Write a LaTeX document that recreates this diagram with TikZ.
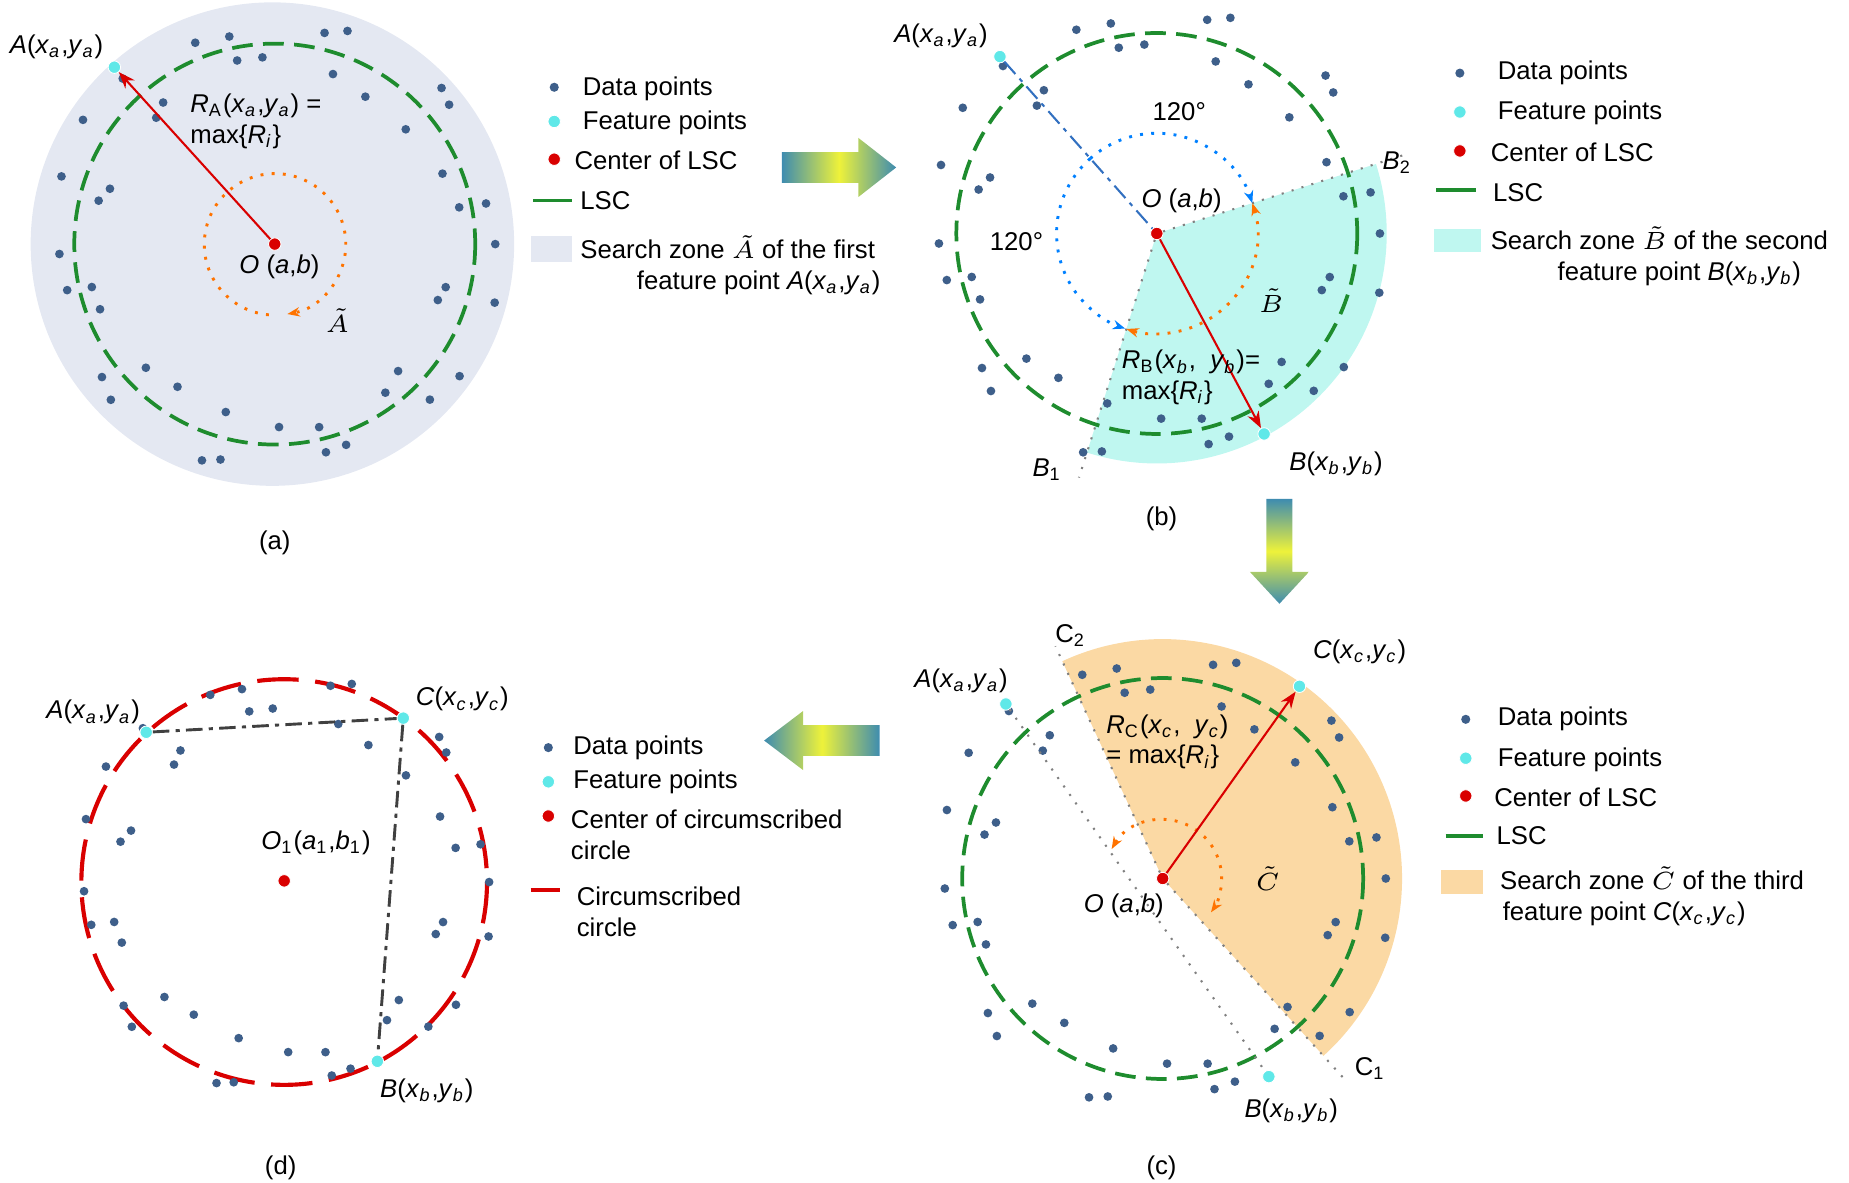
\documentclass[tikz,border=0pt]{standalone}
\usepackage{fontspec}
\setmainfont{Liberation Sans}
\usetikzlibrary{arrows.meta,calc}
\definecolor{dpc}{HTML}{3E5F8A}
\definecolor{fpc}{HTML}{5FE8E8}
\definecolor{lscgreen}{HTML}{1E8C2E}
\definecolor{zoneA}{HTML}{E4E8F2}
\definecolor{zoneB}{HTML}{BFF7F0}
\definecolor{zoneC}{HTML}{FBD9A4}
\definecolor{arrT}{HTML}{3E8CB0}
\definecolor{arrY}{HTML}{EEF23A}
\newcommand\fpt[2]{\textit{#1}(\textit{x}\textsubscript{\textit{#2}},\textit{y}\textsubscript{\textit{#2}})}
\newcommand\scatterpts[3]{%
  \foreach \i in {0,...,43}{
    \pgfmathsetmacro\ang{\i*360/44+6*sin(\i*97)}
    \pgfmathsetmacro\rr{#3*(1+0.1*cos(\i*180)+0.04*sin(\i*211))}
    \fill[dpc] ($(#1,#2)+(\ang:\rr)$) circle (1.05pt);
  }}
\tikzset{
  txt/.style={font=\fontsize{6.2}{7.4}\selectfont,inner sep=1pt},
  lab/.style={font=\fontsize{6.2}{7.4}\selectfont,inner sep=1pt},
  lsc/.style={lscgreen,line width=0.9pt,dash pattern=on 5pt off 2.5pt},
  fp/.style={circle,fill=fpc,draw=white,line width=0.2pt,inner sep=0,minimum size=3pt},
  cp/.style={circle,fill=red!85!black,draw=white,line width=0.2pt,inner sep=0,minimum size=3pt},
  dpn/.style={circle,fill=dpc,inner sep=0,minimum size=2.2pt},
  redarr/.style={red!85!black,line width=0.5pt,-{Stealth[length=4pt]}},
  orarc/.style={orange!90!red,line width=0.7pt,dotted},
  gline/.style={gray,line width=0.5pt,dotted},
}
\begin{document}
\begin{tikzpicture}[x=0.01cm,y=-0.01cm]
\useasboundingbox (0,0) rectangle (1568,1003);
% ---------- (a)
\fill[zoneA] (231,207) circle (205);
\draw[lsc] (233,207) circle (170);
\scatterpts{233}{207}{170}
\draw[orarc,-{Stealth[length=3pt]}] (228,267) arc[start angle=95,end angle=440,radius=60];
\node[cp] (Oa) at (233,207) {};
\node[fp] (Aa) at (97,57) {};
\draw[redarr] (Oa) -- (Aa);
\node[lab] at (48,40) {\fpt{A}{a}};
\node[lab,align=left] at (217,103) {\textit{R}\textsubscript{A}(\textit{x}\textsubscript{\textit{a}},\textit{y}\textsubscript{\textit{a}}) =\\max\{\textit{R}\textsubscript{\textit{i}}\}};
\node[lab] at (237,226) {\textit{O} (\textit{a},\textit{b})};
\node[lab] at (286,272) {$\tilde{A}$};
\node[dpn] at (470,74) {}; \node[txt,anchor=west] at (490,75) {Data points};
\node[fp] at (470,103) {}; \node[txt,anchor=west] at (490,104) {Feature points};
\node[cp] at (470,135) {}; \node[txt,anchor=west] at (483,136) {Center of LSC};
\draw[lsc,dash pattern=] (452,170) -- (485,170); \node[txt,anchor=west] at (488,170) {LSC};
\fill[zoneA] (450,200) rectangle (485,222);
\node[txt,anchor=west,align=left] at (488,225) {Search zone $\tilde{A}$ of the first\\ \hspace{2.2em}feature point \fpt{A}{a}};
\node[lab] at (233,460) {(a)};
\shade[left color=arrT,right color=arrT,middle color=arrY] (663,129) -- (728,129) -- (728,117) -- (760,142) -- (728,167) -- (728,155) -- (663,155) -- cycle;
% ---------- (b)
\fill[zoneB] (981,198) -- ++(107.7:195) arc[start angle=107.7,end angle=-17.6,radius=195] -- cycle;
\draw[lsc] (981,198) circle (170);
\scatterpts{981}{198}{172}
\node[cp] (Ob) at (981,198) {};
\coordinate (B1) at (915,405); \coordinate (B2) at (1195,130);
\draw[gline] (Ob) -- (B1); \draw[gline] (Ob) -- (B2);
\node[fp] (Ab) at (848,48) {};
\node[fp] (Bb) at (1072,368) {};
\draw[arrT!80!blue,line width=0.5pt,dash pattern=on 4pt off 1.5pt on 1pt off 1.5pt] (Ab) -- (Ob);
\draw[blue!50!cyan,line width=0.7pt,dotted,-{Stealth[length=3pt]}] ($(Ob)+(-131.6:85)$) arc[start angle=-131.6,end angle=-17.6,radius=85];
\draw[blue!50!cyan,line width=0.7pt,dotted,-{Stealth[length=3pt]}] ($(Ob)+(-131.6:85)$) arc[start angle=-131.6,end angle=-251.6,radius=85];
\draw[orarc,{Stealth[length=3pt]}-{Stealth[length=3pt]}] ($(Ob)+(-17.6:85)$) arc[start angle=-17.6,end angle=107.7,radius=85];
\draw[redarr] (Ob) -- (Bb);
\node[lab] at (798,30) {\fpt{A}{a}};
\node[lab] at (1000,95) {120°};
\node[lab] at (862,205) {120°};
\node[lab] at (1002,170) {\textit{O} (\textit{a},\textit{b})};
\node[lab] at (1078,255) {$\tilde{B}$};
\node[lab,align=left] at (1010,320) {\textit{R}\textsubscript{B}(\textit{x}\textsubscript{\textit{b}},\ \ \textit{y}\textsubscript{\textit{b}})=\\max\{\textit{R}\textsubscript{\textit{i}}\}};
\node[lab] at (1133,393) {\fpt{B}{b}};
\node[lab] at (888,398) {\textit{B}\textsubscript{1}};
\node[lab] at (1185,138) {\textit{B}\textsubscript{2}};
\node[lab] at (985,440) {(b)};
\node[dpn] at (1238,62) {}; \node[txt,anchor=west] at (1266,62) {Data points};
\node[fp] at (1238,95) {}; \node[txt,anchor=west] at (1266,96) {Feature points};
\node[cp] at (1238,128) {}; \node[txt,anchor=west] at (1260,129) {Center of LSC};
\draw[lsc,dash pattern=] (1218,161) -- (1252,161); \node[txt,anchor=west] at (1262,163) {LSC};
\fill[zoneB] (1216,194) rectangle (1256,214);
\node[txt,anchor=west,align=left] at (1260,217) {Search zone $\tilde{B}$ of the second\\ \hspace{2.6em}feature point \fpt{B}{b}};
\shade[top color=arrT,bottom color=arrT,middle color=arrY] (1074,423) -- (1096,423) -- (1096,485) -- (1110,485) -- (1085,512) -- (1060,485) -- (1074,485) -- cycle;
% ---------- (c)
\fill[zoneC] (986,745) -- ++(-114.8:203) arc[start angle=-114.8,end angle=47.8,radius=203] -- cycle;
\draw[lsc] (986,745) circle (170);
\scatterpts{986}{745}{172}
\node[cp] (Oc) at (986,745) {};
\coordinate (C1) at (1140,915); \coordinate (C2) at (895,548);
\draw[gline] (Oc) -- (C1); \draw[gline] (Oc) -- (C2);
\node[fp] (Ac) at (853,597) {};
\node[fp] (Bc) at (1076,913) {};
\node[fp] (Cc) at (1102,582) {};
\draw[gline] (Ac) -- (Bc);
\draw[orarc,{Stealth[length=3pt]}-{Stealth[length=3pt]}] ($(Oc)+(-150:50)$) arc[start angle=-150,end angle=35,radius=50];
\draw[redarr] (Oc) -- (Cc);
\node[lab] at (815,577) {\fpt{A}{a}};
\node[lab] at (1153,553) {\fpt{C}{c}};
\node[lab] at (1095,942) {\fpt{B}{b}};
\node[lab] at (953,768) {\textit{O} (\textit{a},\textit{b})};
\node[lab] at (1075,745) {$\tilde{C}$};
\node[lab,align=left] at (990,629) {\textit{R}\textsubscript{C}(\textit{x}\textsubscript{\textit{c}},\ \ \textit{y}\textsubscript{\textit{c}})\\= max\{\textit{R}\textsubscript{\textit{i}}\}};
\node[lab] at (908,539) {C\textsubscript{2}};
\node[lab] at (1162,906) {C\textsubscript{1}};
\node[lab] at (985,990) {(c)};
\node[dpn] at (1243,610) {}; \node[txt,anchor=west] at (1266,610) {Data points};
\node[fp] at (1243,643) {}; \node[txt,anchor=west] at (1266,644) {Feature points};
\node[cp] at (1243,675) {}; \node[txt,anchor=west] at (1263,676) {Center of LSC};
\draw[lsc,dash pattern=] (1226,709) -- (1258,709); \node[txt,anchor=west] at (1265,709) {LSC};
\fill[zoneC] (1222,738) rectangle (1258,758);
\node[txt,anchor=west,align=left] at (1268,760) {Search zone $\tilde{C}$ of the third\\ \hspace{0.1em}feature point \fpt{C}{c}};
\shade[left color=arrT,right color=arrT,middle color=arrY] (746,615) -- (681,615) -- (681,603) -- (648,628) -- (681,653) -- (681,641) -- (746,641) -- cycle;
% ---------- (d)
\draw[red!85!black,line width=1pt,dash pattern=on 10pt off 4pt] (241,748) circle (172);
\scatterpts{241}{748}{158}
\node[fp] (Ad) at (124,621) {};
\node[fp] (Cd) at (342,609) {};
\node[fp] (Bd) at (320,900) {};
\node[cp] (Od) at (241,747) {};
\draw[black!75,line width=0.7pt,dash pattern=on 4pt off 1.5pt on 1pt off 1.5pt] (Ad) -- (Cd) -- (Bd) -- cycle;
\node[lab] at (79,604) {\fpt{A}{a}};
\node[lab] at (392,593) {\fpt{C}{c}};
\node[lab] at (362,925) {\fpt{B}{b}};
\node[lab] at (268,715) {\textit{O}\textsubscript{1}(\textit{a}\textsubscript{1},\textit{b}\textsubscript{1})};
\node[lab] at (238,990) {(d)};
\node[dpn] at (465,634) {}; \node[txt,anchor=west] at (482,634) {Data points};
\node[fp] at (465,663) {}; \node[txt,anchor=west] at (482,663) {Feature points};
\node[cp] at (465,692) {}; \node[txt,anchor=west,align=left] at (480,708) {Center of circumscribed\\circle};
\draw[red!85!black,line width=1pt] (450,755) -- (475,755);
\node[txt,anchor=west,align=left] at (485,773) {Circumscribed\\circle};
\end{tikzpicture}
\end{document}
